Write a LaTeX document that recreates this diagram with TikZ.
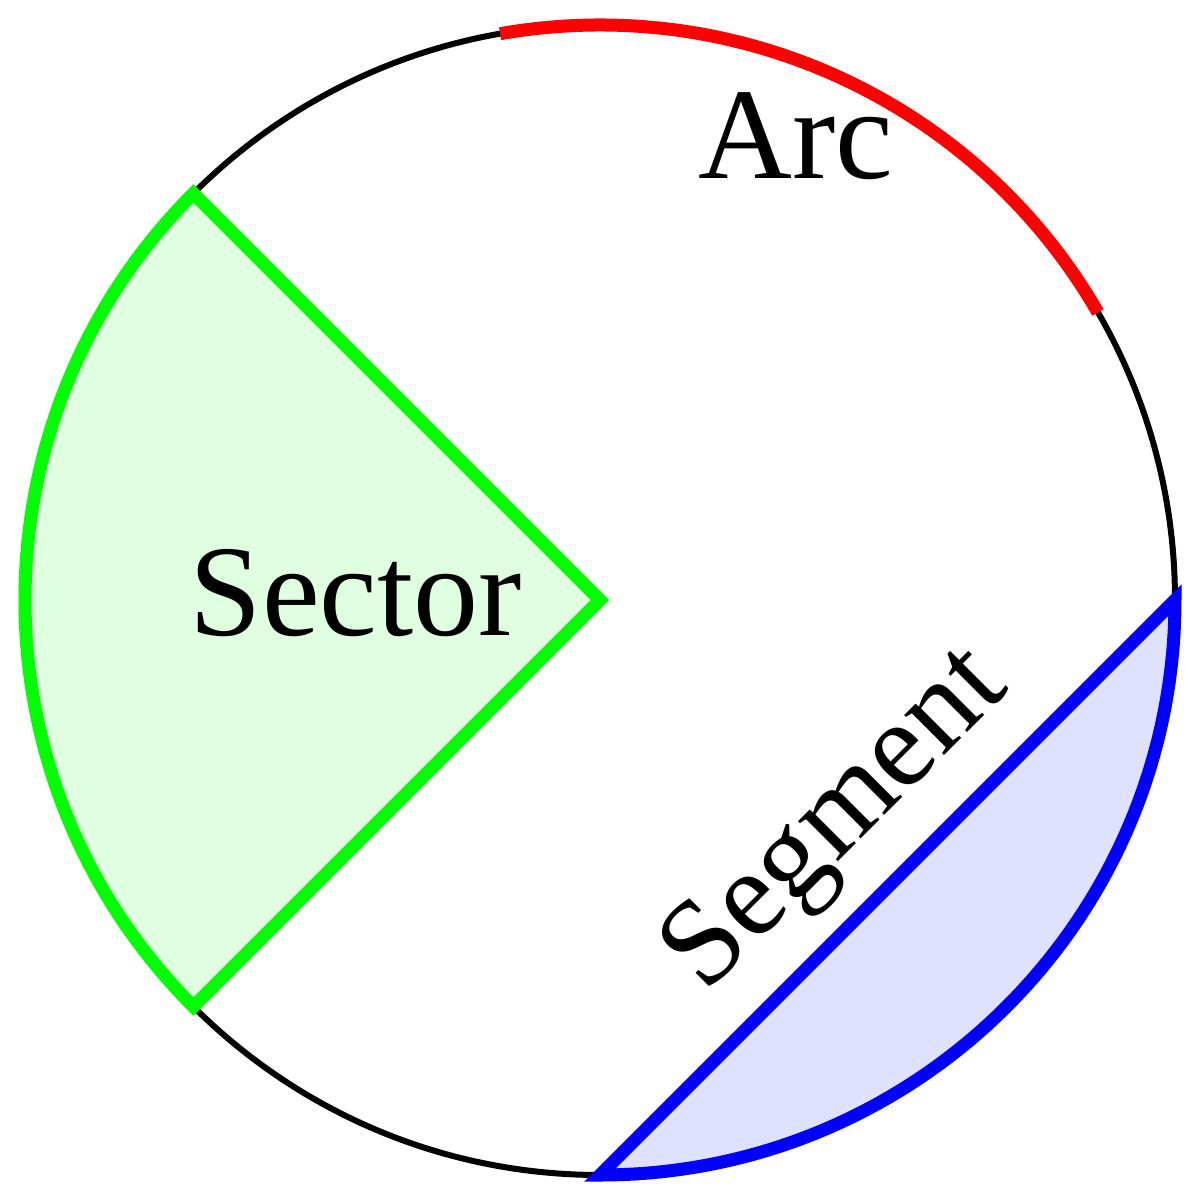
\documentclass[tikz,border=0pt]{standalone}
\usepackage{fontspec}
\setmainfont{Liberation Serif}
\begin{document}
\begin{tikzpicture}[
    rim/.style={black,line width=0.06cm},
    part/.style={line width=0.13cm,line join=miter},
    label/.style={font=\fontsize{37}{40}\selectfont,inner sep=0pt}
  ]
    \useasboundingbox (-6,-6) rectangle (6,6);
    \coordinate (O) at (0,0);

    % the circle
    \draw[rim] (O) circle (5.75);

    % the sector
    \draw[part,green,fill=green!12] (O) -- (135:5.75) arc (135:225:5.75) -- cycle;
    % the segment
    \draw[part,blue,fill=blue!12] (0,-5.75) -- (5.75,0) arc (0:-90:5.75) -- cycle;
    % the arc
    \draw[part,red] (30:5.75) arc (30:100:5.75);

    \node[label,anchor=base] (arc) at (1.96,4.22) {Arc};
    \node[label,anchor=base] (sector) at (-2.44,-0.35) {Sector};
    \node[label,anchor=base,rotate=45,font=\fontsize{35}{40}\selectfont] (segment) at (2.58,-2.42) {Segment};
\end{tikzpicture}
\end{document}
